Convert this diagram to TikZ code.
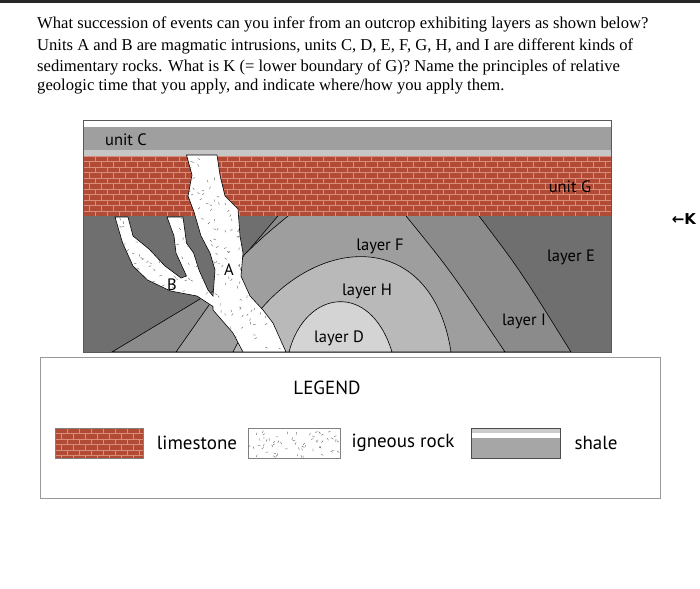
\documentclass[tikz,border=0pt]{standalone}
\usepackage{fontspec}
\setmainfont{Liberation Serif}
\newfontfamily\lab{PT Sans}
\newfontfamily\djfont{DejaVu Sans}
\definecolor{brick}{HTML}{B24B36}
\definecolor{mortar}{HTML}{D98E7C}
\definecolor{cE}{HTML}{6F6F6F}
\definecolor{cI}{HTML}{8B8B8B}
\definecolor{cF}{HTML}{9E9E9E}
\definecolor{cH}{HTML}{B9B9B9}
\definecolor{cD}{HTML}{D4D4D4}
\begin{document}
\begin{tikzpicture}[x=1pt,y=-1pt,
  lbl/.style={font=\lab\fontsize{16.5}{18}\selectfont,inner sep=0pt},
  leglbl/.style={font=\lab\fontsize{19}{21}\selectfont,inner sep=0pt},
  qline/.style={font=\fontsize{16.6}{18}\selectfont,anchor=west,inner sep=0pt},
  bnd/.style={draw=black,line width=0.6pt},
  mort/.style={draw=mortar,line width=0.6pt},
  spk/.style={draw=black!60,line width=0.4pt}]
\useasboundingbox (0,0) rectangle (700,588);
\fill[white] (0,0) rectangle (700,588);
\fill[black!85] (0,0) rectangle (700,3);
\node[qline] (q1) at (37,24) {What succession of events can you infer from an outcrop exhibiting layers as shown below?};
\node[qline] (q2) at (37,46) {Units A and B are magmatic intrusions, units C, D, E, F, G, H, and I are different kinds of};
\node[qline] (q3) at (37,67) {sedimentary rocks. What is K (= lower boundary of G)? Name the principles of relative};
\node[qline] (q4) at (37,87) {geologic time that you apply, and indicate where/how you apply them.};
% unit C
\fill[white] (83,120) rectangle (611,127);
\fill[gray!75] (83,127) rectangle (611,150);
\fill[gray!45] (83,150) rectangle (611,156);
% limestone
\fill[brick] (83,156) rectangle (611,216);
\begin{scope}
\clip (83,156) rectangle (611,216);
\foreach \r in {0,...,11} {
  \draw[mort] (83,156+\r*5.5) -- (611,156+\r*5.5);
  \pgfmathsetmacro\off{mod(\r,2)*6}
  \foreach \c in {0,...,44} {
    \draw[mort] (83+\off+\c*12,156+\r*5.5) -- ++(0,5.5);
  }
}
\end{scope}
% layers
\begin{scope}
\clip (83,216) rectangle (611,352);
\fill[cE] (83,216) rectangle (611,352);
\path[bnd,fill=cI] (112,352) -- (215,290) -- (300,190) -- (420,170) -- (479,216) .. controls (520,270) .. (571,352) -- cycle;
\path[bnd,fill=cF] (176,352) -- (245,254) .. controls (265,235) .. (288,216) -- (350,170) -- (406,216) .. controls (450,270) .. (505,352) -- cycle;
\path[bnd,fill=cH] (233,352) .. controls (290,235) and (430,215) .. (451,352) -- cycle;
\path[bnd,fill=cD] (289,352) .. controls (305,290) and (370,280) .. (392,352) -- cycle;
\end{scope}
% dikes
\def\dikeA{(186.5,155) -- (192,175) -- (188,196) -- (194,212) -- (201,236) -- (210,253) -- (215,270) -- (213,296) -- (208,290) -- (199,270) -- (193.6,253) -- (186.5,243) -- (183,217) -- (167,217) -- (174,236) -- (176,253) -- (186.5,276) -- (181,278) -- (165,266) -- (149,249) -- (133,236) -- (128,217) -- (115,217) -- (122.6,243) -- (133,266) -- (147.5,280) -- (170.5,291) -- (197,296) -- (213,306.5) -- (213,310) -- (233,333) -- (243,352) -- (286,352) -- (273,323) -- (263,310) -- (250,296) -- (241,276) -- (243,253) -- (240,236) -- (238,209) -- (225,196) -- (220,175) -- (217,155) -- cycle}
\path[bnd,fill=white] \dikeA;
\pgfmathsetseed{7}
\begin{scope}
\clip \dikeA;
\foreach \i in {1,...,450} {
  \pgfmathsetmacro\rx{110+rnd*180}
  \pgfmathsetmacro\ry{155+rnd*198}
  \pgfmathsetmacro\ra{rnd*180}
  \draw[spk] (\rx,\ry) -- ++(\ra:2.5);
}
\end{scope}
\draw[gray!70!black,line width=0.8pt] (83,120) rectangle (611,352);
% labels
\node[lbl] (uc) at (126,140) {unit C};
\node[lbl] (ug) at (570,187) {unit G};
\node[lbl] (lf) at (380,246) {layer F};
\node[lbl] (lh) at (367,291) {layer H};
\node[lbl] (ld) at (339,338) {layer D};
\node[lbl] (le) at (571,257) {layer E};
\node[lbl] (li) at (524,321) {layer I};
\node[lbl] (la) at (229,270) {A};
\node[lbl] (lb) at (172,285) {B};
\node[font=\djfont\bfseries\fontsize{15}{17}\selectfont,inner sep=0pt] (k) at (684,219) {←K};
% legend
\draw[gray!80,line width=0.8pt] (40,357) rectangle (660,498);
\node[leglbl] (leg) at (327,388) {LEGEND};
% limestone swatch
\fill[brick] (55,428) rectangle (143,458);
\begin{scope}
\clip (55,428) rectangle (143,458);
\foreach \r in {0,...,5} {
  \draw[mort] (55,428+\r*5.5) -- (143,428+\r*5.5);
  \pgfmathsetmacro\off{mod(\r,2)*6}
  \foreach \c in {0,...,8} {\draw[mort] (55+\off+\c*12,428+\r*5.5) -- ++(0,5.5);}
}
\end{scope}
\draw[gray] (55,428) rectangle (143,458);
\node[leglbl] (tl) at (197,443) {limestone};
% igneous swatch
\draw[gray] (248,428) rectangle (340,458);
\begin{scope}
\clip (248,428) rectangle (340,458);
\foreach \i in {1,...,60} {
  \pgfmathsetmacro\rx{250+rnd*88}
  \pgfmathsetmacro\ry{430+rnd*26}
  \pgfmathsetmacro\ra{rnd*180}
  \draw[spk] (\rx,\ry) -- ++(\ra:2.5);
}
\end{scope}
\node[leglbl] (ti) at (403,443) {igneous rock};
% shale swatch
\fill[gray!70] (471,428) rectangle (560,458);
\fill[gray!40] (471,428) rectangle (560,433);
\fill[white] (471,433) rectangle (560,438);
\draw[gray!60!black] (471,428) rectangle (560,458);
\node[leglbl] (ts) at (596,443) {shale};
\end{tikzpicture}
\end{document}
